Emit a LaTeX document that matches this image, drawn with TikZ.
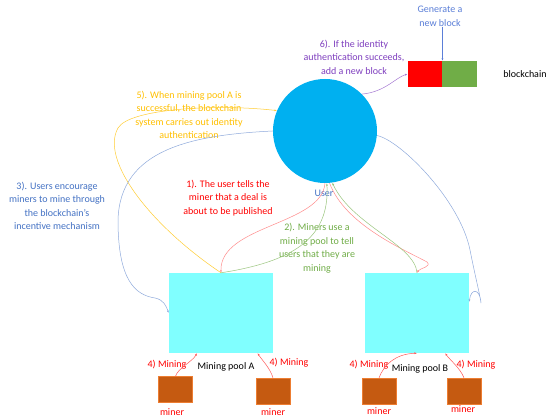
\documentclass[tikz,border=0pt]{standalone}
\usepackage{fontspec}
\setmainfont{Carlito}
\usetikzlibrary{arrows.meta,calc}
\definecolor{userblue}{HTML}{00B0F0}
\definecolor{poolcyan}{HTML}{80FFFF}
\definecolor{minerfill}{HTML}{C55A11}
\definecolor{minerdraw}{HTML}{ED7D31}
\definecolor{tblue}{HTML}{4472C4}
\definecolor{tgen}{HTML}{5B7FD8}
\definecolor{tpurple}{HTML}{7F3FBF}
\definecolor{tred}{HTML}{FF0000}
\definecolor{tgreen}{HTML}{70AD47}
\definecolor{tyellow}{HTML}{FFC000}
\definecolor{bgreen}{HTML}{70AD47}
\begin{document}
\begin{tikzpicture}[x=1pt,y=-1pt,
  lbl/.style={font=\fontsize{10}{13.5}\selectfont, align=center, inner sep=0pt},
  pool/.style={rectangle, fill=poolcyan, minimum width=104pt, minimum height=80pt, inner sep=0pt},
  minerbox/.style={rectangle, fill=minerfill, draw=minerdraw, line width=0.5pt, minimum width=34pt, minimum height=26pt, inner sep=0pt},
  blk/.style={rectangle, minimum width=34.5pt, minimum height=26pt, inner sep=0pt},
  conn/.style={line width=0.5pt, -{Latex[length=2.5pt,width=2pt]}}
]
\useasboundingbox (0,0) rectangle (550,419);
\fill[white] (0,0) rectangle (550,419);

% main shapes
\node[circle, fill=userblue, minimum size=104pt, inner sep=0pt] (user) at (325,131) {};
\node[lbl, text=tblue] (userlbl) at (324,193) {User};
\node[blk, fill=red] (red) at (425,74) {};
\node[blk, fill=bgreen] (green) at (459.5,74) {};
\node[lbl, text=black] (bclbl) at (525,74) {blockchain};
\node[lbl, text=tgen] (gen) at (440,16.5) {Generate a\\new block};

\node[pool] (poolA) at (221,313) {};
\node[pool] (poolB) at (417,313) {};
\node[lbl, text=black] (poolAlbl) at (226,367) {Mining pool A};
\node[lbl, text=black] (poolBlbl) at (420,369) {Mining pool B};

\node[minerbox] (mA1) at (175.5,389.5) {};
\node[minerbox] (mA2) at (273,391) {};
\node[minerbox] (mB1) at (379,391) {};
\node[minerbox] (mB2) at (464,391) {};
\node[lbl, text=tred] (mA1lbl) at (172,412) {miner};
\node[lbl, text=tred] (mA2lbl) at (273,412) {miner};
\node[lbl, text=tred] (mB1lbl) at (379,411) {miner};
\node[lbl, text=tred] (mB2lbl) at (463,409) {miner};
\node[lbl, text=tred] (minA1) at (167,365) {4) Mining};
\node[lbl, text=tred] (minA2) at (289,363) {4) Mining};
\node[lbl, text=tred] (minB1) at (369,365) {4) Mining};
\node[lbl, text=tred] (minB2) at (476,365) {4) Mining};

% step labels
\node[lbl, text=tpurple] (s6) at (354,57) {6). If the identity\\authentication succeeds,\\add a new block};
\node[lbl, text=tyellow] (s5) at (189,115) {5). When mining pool A is\\successful, the blockchain\\system carries out identity\\authentication};
\node[lbl, text=tblue] (s3) at (57,206) {3). Users encourage\\miners to mine through\\the blockchain's\\incentive mechanism};
\node[lbl, text=tred] (s1) at (228,198) {1). The user tells the\\miner that a deal is\\about to be published};
\node[lbl, text=tgreen] (s2) at (317,248) {2). Miners use a\\mining pool to tell\\users that they are\\mining};

% connectors
\draw[conn, tgen] (red.north east |- gen.south) -- (red.north east);
\draw[conn, tpurple!70] (user.45) .. controls (385,92) and (395,78) .. (red.west);
\draw[conn, tyellow!80] (poolA.north) .. controls (150,225) and (100,160) .. (118,128)
   .. controls (130,108) and (220,104) .. (user.157);
\draw[conn, tblue!60] (user.180) .. controls (190,135) and (120,150) .. (118,220)
   .. controls (118,280) and (135,295) .. (155,298)
   .. controls (164,300) and (166,306) .. (poolA.west);
\draw[conn, tblue!60] (user.-5) .. controls (400,140) and (460,200) .. (470,250)
   .. controls (476,280) and (480,295) .. (481,303)
   .. controls (480,288) and (471,288) .. ([yshift=11pt]poolB.east);
\draw[conn, tred!45] (user.270) .. controls (322,225) and (220,225) .. (poolA.north);
\draw[conn, tred!45] (user.275) .. controls (345,225) and (405,250) .. (427,262)
   .. controls (432,267) and (420,268) .. (poolB.north);
\draw[conn, tgreen!70] (poolA.north) .. controls (290,262) and (330,240) .. (user.272);
\draw[conn, tgreen!70] (poolB.north) .. controls (415,245) and (352,225) .. (user.278);

\draw[conn, tred!65] (mA1.north) .. controls (178,368) and (192,362) .. ($(poolA.south west)!0.27!(poolA.south east)$);
\draw[conn, tred!65] (mA2.north) .. controls (270,368) and (262,360) .. ($(poolA.south west)!0.85!(poolA.south east)$);
\draw[conn, tred!65] (mB1.north) .. controls (384,365) and (395,354) .. (poolB.south);
\draw[conn, tred!65] (mB2.north) .. controls (460,368) and (450,360) .. ($(poolB.south west)!0.77!(poolB.south east)$);
\end{tikzpicture}
\end{document}
